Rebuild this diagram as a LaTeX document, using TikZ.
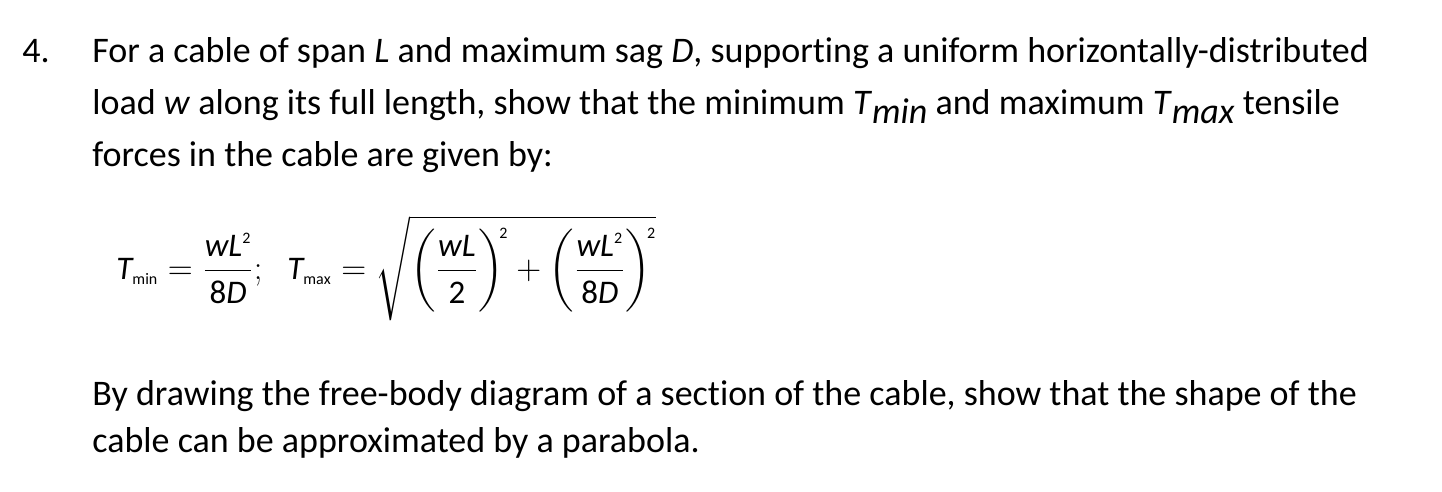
\documentclass[tikz,border=0pt]{standalone}
\usepackage{amsmath}
\usepackage{fontspec}
\setmainfont[Ligatures=NoCommon]{Carlito}
\newcommand{\mi}[1]{\mbox{\itshape #1}}
\newcommand{\mr}[1]{\mbox{#1}}
\begin{document}
\begin{tikzpicture}[x=0.5pt,y=-0.5pt,
  txt/.style={anchor=base west,inner sep=0pt,font=\fontsize{18}{21}\selectfont}]
\useasboundingbox (0,0) rectangle (1442,492);
\node[txt] (n) at (22,63) {4.};
\node[txt] (l1) at (92,63) {For a cable of span \textit{L} and maximum sag \textit{D}, supporting a uniform horizontally-distributed};
\node[txt] (l2) at (92,115) {load \textit{w} along its full length, show that the minimum \textit{T}\raisebox{-0.5ex}{\textit{min}} and maximum \textit{T}\raisebox{-0.5ex}{\textit{max}} tensile};
\node[txt] (l3) at (92,167) {forces in the cable are given by:};
\node[inner sep=0pt,anchor=west,font=\fontsize{16.5}{20}\selectfont] (f) at (116,268)
 {$\mi{T}_{\mr{\footnotesize min}}=\dfrac{\mi{wL}^{\mr{\footnotesize 2}}}{\mr{8}\mi{D}};\;\; \mi{T}_{\mr{\footnotesize max}}=\sqrt{\left(\dfrac{\mi{wL}}{\mr{2}}\right)^{\!\mr{\footnotesize 2}}+\left(\dfrac{\mi{wL}^{\mr{\footnotesize 2}}}{\mr{8}\mi{D}}\right)^{\!\mr{\footnotesize 2}}}$};
\node[txt] (p1) at (92,405) {By drawing the free-body diagram of a section of the cable, show that the shape of the};
\node[txt] (p2) at (92,452) {cable can be approximated by a parabola.};
\end{tikzpicture}
\end{document}
